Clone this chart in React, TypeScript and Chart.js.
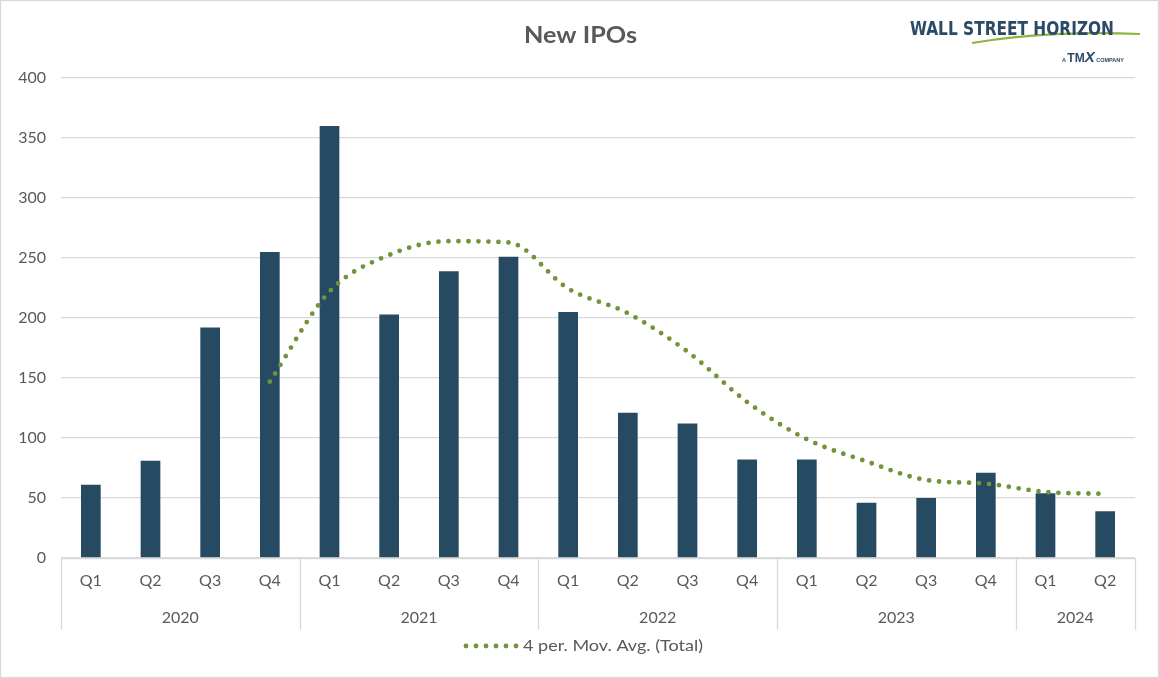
import React, { useEffect, useRef } from "react";
import { Chart, registerables } from "chart.js";

Chart.register(...registerables);

const quarters = ["Q1", "Q2", "Q3", "Q4", "Q1", "Q2", "Q3", "Q4", "Q1", "Q2", "Q3", "Q4", "Q1", "Q2", "Q3", "Q4", "Q1", "Q2"];
const years = ["2020", "2021", "2022", "2023", "2024"];
const yearSpans = [4, 4, 4, 4, 2];
const newIpos = [61, 81, 192, 255, 360, 203, 239, 251, 205, 121, 112, 82, 82, 46, 50, 71, 54, 39];
const movingAvg = [null, null, null, 147, 222, 252.5, 264, 263, 224.5, 204, 172, 130, 99, 80.5, 65, 62, 55, 53.5];
const yTicks = [0, 50, 100, 150, 200, 250, 300, 350, 400];
const legendLabel = "4 per. Mov. Avg. (Total)";
const titleText = "New IPOs";

const FONT = "Lato, 'Open Sans', sans-serif";
const TXT = "#595959";
const GRID = "#d9d9d9";
const BAR = "#264a62";
const GREEN = "#71943a";

function fitText(ctx: any, text: string, x: number, y: number, targetW: number, align: string) {
  const w = ctx.measureText(text).width;
  const s = targetW / w;
  ctx.save();
  ctx.translate(x, y);
  ctx.scale(s, 1);
  ctx.textAlign = align;
  ctx.fillText(text, 0, 0);
  ctx.restore();
}

export default function App() {
  const ref = useRef<HTMLCanvasElement>(null);
  useEffect(() => {
    const canvas = ref.current;
    if (!canvas) return;
    const overlay = {
      id: "overlay",
      beforeDraw(chart: any) {
        const ctx = chart.ctx;
        ctx.save();
        ctx.fillStyle = "#ffffff";
        ctx.fillRect(0, 0, chart.width, chart.height);
        ctx.restore();
      },
      afterDraw(chart: any) {
        const ctx = chart.ctx;
        const xs = chart.scales.x;
        const area = chart.chartArea;
        ctx.save();
        ctx.strokeStyle = GRID;
        ctx.lineWidth = 1.3;
        ctx.strokeRect(0.5, 0.5, chart.width - 1, chart.height - 1);
        ctx.beginPath();
        ctx.moveTo(area.left, area.bottom + 0.5);
        ctx.lineTo(area.right, area.bottom + 0.5);
        ctx.stroke();
        const step = (area.right - area.left) / quarters.length;
        let idx = 0;
        const bounds = [0];
        yearSpans.forEach((s) => {
          idx += s;
          bounds.push(idx);
        });
        bounds.forEach((b) => {
          const x = Math.round(area.left + b * step) + 0.5;
          ctx.beginPath();
          ctx.moveTo(x, area.bottom);
          ctx.lineTo(x, area.bottom + 72);
          ctx.stroke();
        });
        ctx.fillStyle = TXT;
        ctx.font = `16px ${FONT}`;
        ctx.textAlign = "center";
        ctx.textBaseline = "middle";
        quarters.forEach((q, i) => {
          ctx.fillText(q, xs.getPixelForValue(i), area.bottom + 23);
        });
        years.forEach((y, i) => {
          const x = area.left + ((bounds[i] + bounds[i + 1]) / 2) * step;
          ctx.fillText(y, x, area.bottom + 60);
        });
        const ly = 646;
        ctx.fillStyle = GREEN;
        for (let k = 0; k < 6; k++) {
          ctx.beginPath();
          ctx.arc(466 + k * 10, ly, 2.4, 0, Math.PI * 2);
          ctx.fill();
        }
        ctx.fillStyle = TXT;
        fitText(ctx, legendLabel, 523, ly, 180, "left");
        ctx.font = `bold 22px ${FONT}`;
        fitText(ctx, titleText, 580.5, 36, 113, "center");
        ctx.restore();
      },
    };
    const chart = new Chart(canvas, {
      type: "bar",
      data: {
        labels: quarters.map((q, i) => `${q}-${i}`),
        datasets: [
          {
            type: "line",
            label: legendLabel,
            data: movingAvg as any,
            borderColor: GREEN,
            backgroundColor: GREEN,
            borderWidth: 4.8,
            borderDash: [0, 10],
            borderCapStyle: "round",
            pointRadius: 0,
            cubicInterpolationMode: "monotone",
            order: 0,
          } as any,
          {
            type: "bar",
            label: "Total",
            data: newIpos,
            backgroundColor: BAR,
            barPercentage: 0.33,
            categoryPercentage: 1,
            order: 1,
          },
        ],
      },
      options: {
        responsive: false,
        animation: false,
        devicePixelRatio: 1,
        layout: { padding: { top: 78, right: 24, bottom: 0, left: 0 } },
        plugins: { legend: { display: false }, title: { display: false }, tooltip: { enabled: false } },
        scales: {
          x: {
            grid: { display: false },
            border: { display: false },
            ticks: { display: false },
            afterFit: (s: any) => {
              s.height = 120;
            },
          },
          y: {
            min: 0,
            max: 400,
            afterBuildTicks: (s: any) => {
              s.ticks = yTicks.map((v) => ({ value: v }));
            },
            grid: { color: GRID, lineWidth: 1.3, drawTicks: false },
            border: { display: false },
            ticks: { color: TXT, font: { family: FONT, size: 16 }, padding: 15 },
            afterFit: (s: any) => {
              s.width = 61;
            },
          },
        },
      },
      plugins: [overlay],
    });
    return () => chart.destroy();
  }, []);

  return (
    <div style={{ position: "absolute", left: 0, top: 0, width: 1159, height: 678 }}>
      <canvas ref={ref} width={1159} height={678} style={{ display: "block" }} />
      <div style={{ position: "absolute", left: 0, top: 0, width: 1159, height: 678, pointerEvents: "none" }}>
        <svg width={1159} height={80} style={{ position: "absolute", left: 0, top: 0 }}>
          <path d="M 972 43 Q 1050 30 1140 34" stroke="#8db33f" strokeWidth={2.2} fill="none" />
        </svg>
        <div
          style={{
            position: "absolute",
            left: 910,
            top: 17,
            fontFamily: "'DejaVu Sans Condensed', 'DejaVu Sans', sans-serif",
            fontWeight: 700,
            fontSize: 19,
            lineHeight: "22px",
            color: "#2b4a66",
            transform: "scaleX(0.9)",
            transformOrigin: "left top",
            whiteSpace: "nowrap",
          }}
        >
          WALL STREET HORIZON
        </div>
        <div
          style={{
            position: "absolute",
            left: 1062,
            top: 50,
            fontFamily: "'Liberation Sans', sans-serif",
            fontSize: 5.5,
            fontWeight: 700,
            color: "#2b4a66",
            whiteSpace: "nowrap",
            lineHeight: "14px",
          }}
        >
          A <span style={{ fontSize: 12 }}>TM</span><span style={{ fontSize: 15, fontStyle: "italic" }}>X</span> COMPANY
        </div>
      </div>
    </div>
  );
}
